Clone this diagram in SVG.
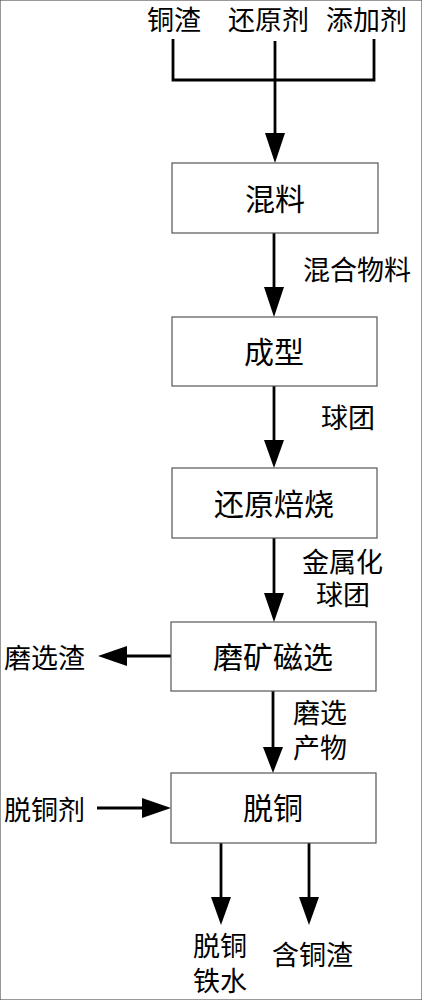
<svg xmlns="http://www.w3.org/2000/svg" width="422" height="1000" viewBox="0 0 422 1000">
<style>
text{font-family:"Noto Sans CJK SC","Noto Sans CJK JP",sans-serif;fill:#000;}
.lbl{font-size:27px;}
.box{font-size:30px;text-anchor:middle;}
rect{fill:#fff;stroke:#555;stroke-width:1.2;}
.ln{stroke:#000;stroke-width:2.8;fill:none;}
.ah{fill:#000;stroke:none;}
</style>
<rect width="422" height="1000" fill="#fff" stroke="none"/>
<g id="inputs">
<text class="lbl" x="147" y="30">铜渣</text>
<text class="lbl" x="228" y="30">还原剂</text>
<text class="lbl" x="326" y="30">添加剂</text>
</g>
<g id="connectors">
<polyline class="ln" points="173,39 173,80 374,80 374,39"/>
<line class="ln" x1="275" y1="41" x2="275" y2="136"/>
<polygon class="ah" points="265,133 285,133 275,163"/>
<line class="ln" x1="274" y1="233" x2="274" y2="290"/>
<polygon class="ah" points="264,287 284,287 274,317"/>
<line class="ln" x1="274" y1="386" x2="274" y2="442"/>
<polygon class="ah" points="264,440 284,440 274,468"/>
<line class="ln" x1="274" y1="538" x2="274" y2="596"/>
<polygon class="ah" points="264,593 284,593 274,622"/>
<line class="ln" x1="171" y1="656" x2="125" y2="656"/>
<polygon class="ah" points="127,646 127,666 98,656"/>
<line class="ln" x1="273" y1="691" x2="273" y2="750"/>
<polygon class="ah" points="263,747 283,747 273,773"/>
<line class="ln" x1="97" y1="808" x2="145" y2="808"/>
<polygon class="ah" points="142,798 142,818 171,808"/>
<line class="ln" x1="221" y1="843" x2="221" y2="900"/>
<polygon class="ah" points="211,897 231,897 221,925"/>
<line class="ln" x1="309" y1="843" x2="309" y2="900"/>
<polygon class="ah" points="299,897 319,897 309,925"/>
</g>
<g id="n1"><rect x="172" y="163" width="206" height="70"/><text class="box" x="275" y="210">混料</text></g>
<g id="lbl1"><text class="lbl" x="303" y="280">混合物料</text></g>
<g id="n2"><rect x="172" y="317" width="205" height="69"/><text class="box" x="274" y="363">成型</text></g>
<g id="lbl2"><text class="lbl" x="321" y="428">球团</text></g>
<g id="n3"><rect x="172" y="468" width="205" height="70"/><text class="box" x="274" y="515">还原焙烧</text></g>
<g id="lbl3"><text class="lbl" x="302" y="572">金属化</text><text class="lbl" x="316" y="605">球团</text></g>
<g id="n4"><rect x="171" y="622" width="205" height="69"/><text class="box" x="273" y="668">磨矿磁选</text></g>
<g id="out1"><text class="lbl" x="4" y="668">磨选渣</text></g>
<g id="lbl4"><text class="lbl" x="293" y="723">磨选</text><text class="lbl" x="293" y="758">产物</text></g>
<g id="n5"><rect x="171" y="773" width="205" height="70"/><text class="box" x="273" y="819">脱铜</text></g>
<g id="in2"><text class="lbl" x="4" y="820">脱铜剂</text></g>
<g id="out2"><text class="lbl" x="193" y="956">脱铜</text><text class="lbl" x="193" y="991">铁水</text></g>
<g id="out3"><text class="lbl" x="272" y="965">含铜渣</text></g>
</svg>
